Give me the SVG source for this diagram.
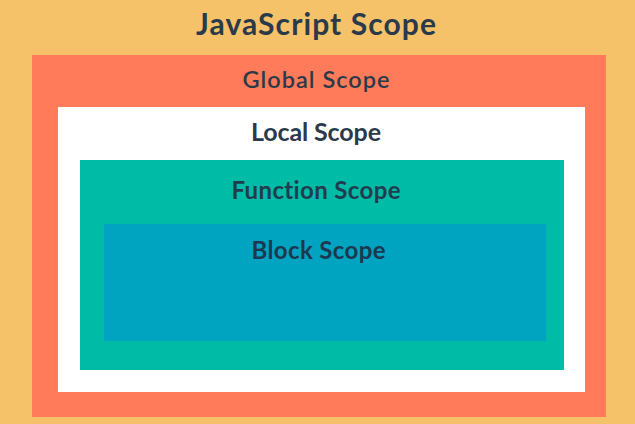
<svg xmlns="http://www.w3.org/2000/svg" width="635" height="424" viewBox="0 0 635 424">
<style>
text{font-family:Lato,"Noto Sans","Liberation Sans",sans-serif;text-anchor:middle;fill:#2b3a4a;font-variant-ligatures:none}
.t{font-size:30px;font-weight:700}
.l{font-size:25px;font-weight:700}
.f{font-size:24px;font-weight:700}
.m{font-size:23.5px;font-weight:600}
</style>
<rect x="0" y="0" width="635" height="424" fill="#f5c169"/>
<g id="title"><text class="t" x="316" y="35" textLength="240">JavaScript Scope</text></g>
<g id="global">
<rect x="32" y="55" width="574" height="362" fill="#ff7b59"/>
<text class="m" x="316" y="88" textLength="147">Global Scope</text>
</g>
<g id="local">
<rect x="58" y="107" width="527" height="285" fill="#ffffff"/>
<text class="l" x="316" y="141" textLength="130">Local Scope</text>
</g>
<g id="function">
<rect x="80" y="160" width="484" height="210" fill="#00bba6"/>
<text class="f" x="316" y="199" textLength="169" style="fill:#1f3d4f">Function Scope</text>
</g>
<g id="block">
<rect x="104" y="224" width="442" height="117" fill="#00a4c0"/>
<text class="f" x="318.5" y="259" textLength="134" style="fill:#1c3850">Block Scope</text>
</g>
<g id="connectors"/>
</svg>
